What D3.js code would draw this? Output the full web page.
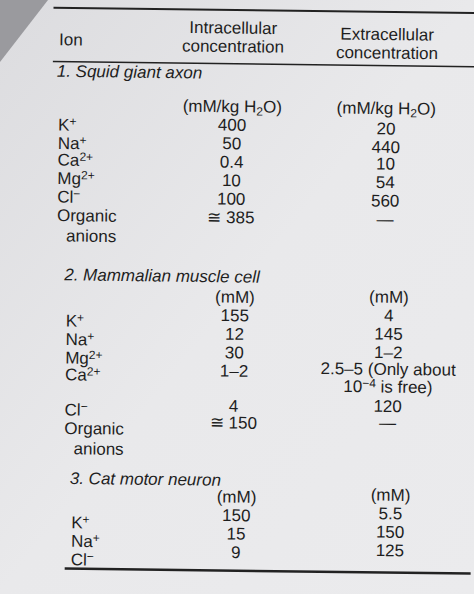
<!DOCTYPE html>
<html><head><meta charset="utf-8">
<script src="https://cdn.jsdelivr.net/npm/d3@7"></script>
<style>body{margin:0;background:#e6e6e8}</style></head>
<body><svg id="c" width="474" height="594"></svg>
<script>
const headers = [["Ion"], ["Intracellular", "concentration"], ["Extracellular", "concentration"]];
const sectionTitles = ["1. Squid giant axon", "2. Mammalian muscle cell", "3. Cat motor neuron"];
const sectionRows = [0, 11, 22];
const sectionIndent = [0, 10, 18];
const ions = [
  [0,2.9,"K","+"],[0,3.9,"Na","+"],[0,4.8,"Ca","2+"],[0,5.8,"Mg","2+"],[0,6.8,"Cl","−"],[0,7.8,"Organic",""],[0,8.9,"  anions",""],
  [1,13.5,"K","+"],[1,14.5,"Na","+"],[1,15.5,"Mg","2+"],[1,16.4,"Ca","2+"],[1,18.3,"Cl","−"],[1,19.3,"Organic",""],[1,20.4,"  anions",""],
  [2,24.4,"K","+"],[2,25.4,"Na","+"],[2,26.4,"Cl","−"]
];
const intra = [
  [0,1.8,"(mM/kg H|2|O)"],[0,2.8,"400"],[0,3.8,"50"],[0,4.8,"0.4"],[0,5.8,"10"],[0,6.8,"100"],[0,7.8,"≅ 385"],
  [1,12.1,"(mM)"],[1,13.1,"155"],[1,14.1,"12"],[1,15.1,"30"],[1,16.1,"1–2"],[1,18.0,"4"],[1,18.9,"≅ 150"],
  [2,22.9,"(mM)"],[2,23.9,"150"],[2,24.9,"15"],[2,25.9,"9"]
];
const extra = [
  [0,1.8,"(mM/kg H|2|O)"],[0,2.9,"20"],[0,3.9,"440"],[0,4.8,"10"],[0,5.8,"54"],[0,6.8,"560"],[0,7.8,"—"],
  [1,12.0,"(mM)"],[1,13.0,"4"],[1,14.0,"145"],[1,15.0,"1–2"],[1,15.9,"2.5–5 (Only about"],[1,16.85,"10^−4^ is free)"],[1,17.9,"120"],[1,18.8,"—"],
  [2,22.7,"(mM)"],[2,23.7,"5.5"],[2,24.7,"150"],[2,25.7,"125"]
];

const svg = d3.select("#c");
const defs = svg.append("defs");
const g1 = defs.append("linearGradient").attr("id","bg").attr("x1",0).attr("y1",0).attr("x2",1).attr("y2",1);
g1.append("stop").attr("offset",0).attr("stop-color","#dcdcdf");
g1.append("stop").attr("offset",0.5).attr("stop-color","#e9e9eb");
g1.append("stop").attr("offset",1).attr("stop-color","#ebebed");
svg.append("rect").attr("width",474).attr("height",594).attr("fill","url(#bg)");
svg.append("path").attr("d","M0,0 L48,0 L0,62 Z").attr("fill","#9a9a9e");

const root = svg.append("g").attr("transform","rotate(0.7 237 297)")
  .style("font-family","'Liberation Sans', Arial, sans-serif").style("font-size","17px").attr("fill","#1e1e1e");

const y = d3.scaleLinear().domain([0, 27]).range([73, 73 + 18.5*27]);
const x = d3.scaleOrdinal().domain(["ion","intra","extra"]).range([56, 230, 384]);
const ind = d3.scaleLinear().domain([0, 20]).range([0, 20]);

function rich(sel, str){
  const parts = str.split(/(\|[^|]*\||\^[^^]*\^)/).filter(s=>s.length);
  parts.forEach(p=>{
    if(p[0]==="|") sel.append("tspan").attr("baseline-shift","-25%").style("font-size","12px").text(p.slice(1,-1));
    else if(p[0]==="^") sel.append("tspan").attr("baseline-shift","40%").style("font-size","12px").text(p.slice(1,-1));
    else sel.append("tspan").text(p);
  });
}

root.append("line").attr("x1",50).attr("x2",474).attr("y1",y(-3.4)).attr("y2",y(-3.4)).attr("stroke","#222").attr("stroke-width",2);
root.append("line").attr("x1",50).attr("x2",474).attr("y1",y(-0.5)).attr("y2",y(-0.5)).attr("stroke","#222").attr("stroke-width",1.5);
root.append("line").attr("x1",68).attr("x2",474).attr("y1",y(26.9)).attr("y2",y(26.9)).attr("stroke","#222").attr("stroke-width",2.5);

root.append("text").attr("x",x("ion")).attr("y",y(-1.7)).attr("dy","0.35em").text(headers[0][0]);
headers[1].forEach((t,i)=>root.append("text").attr("x",x("intra")).attr("y",y(-2.45+i)).attr("dy","0.35em").attr("text-anchor","middle").text(t));
headers[2].forEach((t,i)=>root.append("text").attr("x",x("extra")).attr("y",y(-2.2+i)).attr("dy","0.35em").attr("text-anchor","middle").text(t));

sectionTitles.forEach((t,i)=>root.append("text").attr("x",x("ion")+ind(sectionIndent[i])-2).attr("y",y(sectionRows[i]))
  .attr("dy","0.35em").style("font-style","italic").text(t));

ions.forEach(d=>{
  const t = root.append("text").attr("x",x("ion")+ind(sectionIndent[d[0]])).attr("y",y(d[1])).attr("dy","0.35em").attr("xml:space","preserve");
  t.append("tspan").text(d[2]);
  if(d[3]) t.append("tspan").attr("baseline-shift","40%").style("font-size","12px").text(d[3]);
});
intra.forEach(d=>{
  const t = root.append("text").attr("x",x("intra")+ind(sectionIndent[d[0]])*0.5).attr("y",y(d[1])).attr("dy","0.35em").attr("text-anchor","middle");
  rich(t,d[2]);
});
extra.forEach(d=>{
  const t = root.append("text").attr("x",x("extra")+ind(sectionIndent[d[0]])*0.5).attr("y",y(d[1])).attr("dy","0.35em").attr("text-anchor","middle");
  rich(t,d[2]);
});
</script></body></html>
